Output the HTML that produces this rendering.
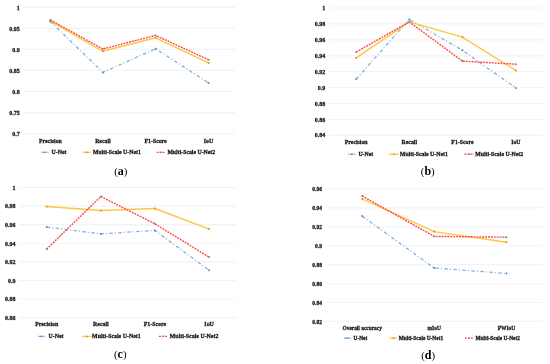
<!DOCTYPE html><html><head><meta charset="utf-8"><style>
html,body{margin:0;padding:0;background:#fff;width:550px;height:364px;overflow:hidden}
svg{display:block;filter:blur(0.45px)}
.t{font-family:"Liberation Serif",serif;font-weight:bold;fill:#1a1a1a;stroke:#1a1a1a;stroke-width:0.28px}
.cap{font-family:"Liberation Serif",serif;font-size:10.8px;fill:#000}
.cap tspan.b{font-weight:bold;font-size:12px}
</style></head><body>
<svg width="550" height="364" viewBox="0 0 550 364">
<line x1="23.5" y1="7.35" x2="235.0" y2="7.35" stroke="#f3f3f3" stroke-width="1.2"/>
<text class="t" x="19.7" y="9.63" font-size="6.0" text-anchor="end">1</text>
<line x1="23.5" y1="28.39" x2="235.0" y2="28.39" stroke="#f3f3f3" stroke-width="1.2"/>
<text class="t" x="19.7" y="30.67" font-size="6.0" text-anchor="end">0.95</text>
<line x1="23.5" y1="49.43" x2="235.0" y2="49.43" stroke="#f3f3f3" stroke-width="1.2"/>
<text class="t" x="19.7" y="51.71" font-size="6.0" text-anchor="end">0.9</text>
<line x1="23.5" y1="70.47" x2="235.0" y2="70.47" stroke="#f3f3f3" stroke-width="1.2"/>
<text class="t" x="19.7" y="72.75" font-size="6.0" text-anchor="end">0.85</text>
<line x1="23.5" y1="91.52" x2="235.0" y2="91.52" stroke="#f3f3f3" stroke-width="1.2"/>
<text class="t" x="19.7" y="93.80" font-size="6.0" text-anchor="end">0.8</text>
<line x1="23.5" y1="112.56" x2="235.0" y2="112.56" stroke="#f3f3f3" stroke-width="1.2"/>
<text class="t" x="19.7" y="114.84" font-size="6.0" text-anchor="end">0.75</text>
<line x1="23.5" y1="133.60" x2="235.0" y2="133.60" stroke="#f3f3f3" stroke-width="1.2"/>
<text class="t" x="19.7" y="135.88" font-size="6.0" text-anchor="end">0.7</text>
<text class="t" x="50.4" y="142.50" font-size="5.8" text-anchor="middle">Precision</text>
<text class="t" x="102.9" y="142.50" font-size="5.8" text-anchor="middle">Recall</text>
<text class="t" x="155.6" y="142.50" font-size="5.8" text-anchor="middle">F1-Score</text>
<text class="t" x="208.5" y="142.50" font-size="5.8" text-anchor="middle">IoU</text>
<polyline points="50.4,21.5 102.9,72.4 155.6,48.8 208.5,82.9" fill="none" stroke="#80B2E2" stroke-width="1.3" stroke-dasharray="3.5 2 1 2.5" stroke-linejoin="round"/>
<polyline points="50.4,21.1 102.9,51.3 155.6,37.8 208.5,62.9" fill="none" stroke="#FFC640" stroke-width="1.4" stroke-linejoin="round"/>
<polyline points="50.4,20.0 102.9,49.0 155.6,35.4 208.5,59.8" fill="none" stroke="#FF4545" stroke-width="1.4" stroke-dasharray="1.9 1.0" stroke-linejoin="round"/>
<circle cx="50.4" cy="21.5" r="1" fill="#4a86c5"/>
<circle cx="102.9" cy="72.4" r="1" fill="#4a86c5"/>
<circle cx="155.6" cy="48.8" r="1" fill="#4a86c5"/>
<circle cx="208.5" cy="82.9" r="1" fill="#4a86c5"/>
<circle cx="50.4" cy="21.1" r="1" fill="#f08a00"/>
<circle cx="102.9" cy="51.3" r="1" fill="#f08a00"/>
<circle cx="155.6" cy="37.8" r="1" fill="#f08a00"/>
<circle cx="208.5" cy="62.9" r="1" fill="#f08a00"/>
<circle cx="50.4" cy="20.0" r="1" fill="#8a8a8a"/>
<circle cx="102.9" cy="49.0" r="1" fill="#8a8a8a"/>
<circle cx="155.6" cy="35.4" r="1" fill="#8a8a8a"/>
<circle cx="208.5" cy="59.8" r="1" fill="#8a8a8a"/>
<line x1="41.0" y1="152.3" x2="48.4" y2="152.3" stroke="#80B2E2" stroke-width="1.1" stroke-dasharray="3.2 1.2"/>
<circle cx="44.7" cy="152.3" r="0.9" fill="#4a86c5"/>
<text class="t" x="51.6" y="154.21" font-size="5.8">U-Net</text>
<line x1="82.4" y1="152.3" x2="91.0" y2="152.3" stroke="#FFC640" stroke-width="1.3"/>
<circle cx="86.7" cy="152.3" r="0.9" fill="#f08a00"/>
<text class="t" x="93.0" y="154.21" font-size="5.8">Multi-Scale U-Net1</text>
<line x1="156.6" y1="152.3" x2="165.6" y2="152.3" stroke="#FF4545" stroke-width="1.2" stroke-dasharray="2 1"/>
<circle cx="161.1" cy="152.3" r="0.9" fill="#8a8a8a"/>
<text class="t" x="167.4" y="154.21" font-size="5.8">Multi-Scale U-Net2</text>
<text class="cap" x="114.2" y="174.9">(<tspan class="b">a</tspan>)</text>
<line x1="329.5" y1="8.00" x2="543.0" y2="8.00" stroke="#f3f3f3" stroke-width="1.2"/>
<text class="t" x="325.3" y="10.08" font-size="6.0" text-anchor="end">1</text>
<line x1="329.5" y1="23.93" x2="543.0" y2="23.93" stroke="#f3f3f3" stroke-width="1.2"/>
<text class="t" x="325.3" y="26.01" font-size="6.0" text-anchor="end">0.98</text>
<line x1="329.5" y1="39.85" x2="543.0" y2="39.85" stroke="#f3f3f3" stroke-width="1.2"/>
<text class="t" x="325.3" y="41.93" font-size="6.0" text-anchor="end">0.96</text>
<line x1="329.5" y1="55.78" x2="543.0" y2="55.78" stroke="#f3f3f3" stroke-width="1.2"/>
<text class="t" x="325.3" y="57.86" font-size="6.0" text-anchor="end">0.94</text>
<line x1="329.5" y1="71.70" x2="543.0" y2="71.70" stroke="#f3f3f3" stroke-width="1.2"/>
<text class="t" x="325.3" y="73.78" font-size="6.0" text-anchor="end">0.92</text>
<line x1="329.5" y1="87.62" x2="543.0" y2="87.62" stroke="#f3f3f3" stroke-width="1.2"/>
<text class="t" x="325.3" y="89.70" font-size="6.0" text-anchor="end">0.9</text>
<line x1="329.5" y1="103.55" x2="543.0" y2="103.55" stroke="#f3f3f3" stroke-width="1.2"/>
<text class="t" x="325.3" y="105.63" font-size="6.0" text-anchor="end">0.88</text>
<line x1="329.5" y1="119.48" x2="543.0" y2="119.48" stroke="#f3f3f3" stroke-width="1.2"/>
<text class="t" x="325.3" y="121.56" font-size="6.0" text-anchor="end">0.86</text>
<line x1="329.5" y1="135.40" x2="543.0" y2="135.40" stroke="#f3f3f3" stroke-width="1.2"/>
<text class="t" x="325.3" y="137.48" font-size="6.0" text-anchor="end">0.84</text>
<text class="t" x="356.2" y="144.30" font-size="5.8" text-anchor="middle">Precision</text>
<text class="t" x="409.3" y="144.30" font-size="5.8" text-anchor="middle">Recall</text>
<text class="t" x="462.4" y="144.30" font-size="5.8" text-anchor="middle">F1-Score</text>
<text class="t" x="515.8" y="144.30" font-size="5.8" text-anchor="middle">IoU</text>
<polyline points="356.2,79.1 409.3,19.4 462.4,50.3 515.8,88.0" fill="none" stroke="#80B2E2" stroke-width="1.3" stroke-dasharray="3.5 2 1 2.5" stroke-linejoin="round"/>
<polyline points="356.2,57.9 409.3,21.9 462.4,37.1 515.8,70.4" fill="none" stroke="#FFC640" stroke-width="1.4" stroke-linejoin="round"/>
<polyline points="356.2,52.0 409.3,21.9 462.4,61.1 515.8,64.2" fill="none" stroke="#FF4545" stroke-width="1.4" stroke-dasharray="1.9 1.0" stroke-linejoin="round"/>
<circle cx="356.2" cy="79.1" r="1" fill="#4a86c5"/>
<circle cx="409.3" cy="19.4" r="1" fill="#4a86c5"/>
<circle cx="462.4" cy="50.3" r="1" fill="#4a86c5"/>
<circle cx="515.8" cy="88.0" r="1" fill="#4a86c5"/>
<circle cx="356.2" cy="57.9" r="1" fill="#f08a00"/>
<circle cx="409.3" cy="21.9" r="1" fill="#f08a00"/>
<circle cx="462.4" cy="37.1" r="1" fill="#f08a00"/>
<circle cx="515.8" cy="70.4" r="1" fill="#f08a00"/>
<circle cx="356.2" cy="52.0" r="1" fill="#8a8a8a"/>
<circle cx="409.3" cy="21.9" r="1" fill="#8a8a8a"/>
<circle cx="462.4" cy="61.1" r="1" fill="#8a8a8a"/>
<circle cx="515.8" cy="64.2" r="1" fill="#8a8a8a"/>
<line x1="348.0" y1="154.2" x2="355.6" y2="154.2" stroke="#80B2E2" stroke-width="1.1" stroke-dasharray="3.2 1.2"/>
<circle cx="351.8" cy="154.2" r="0.9" fill="#4a86c5"/>
<text class="t" x="358.4" y="156.11" font-size="5.8">U-Net</text>
<line x1="389.0" y1="154.2" x2="399.0" y2="154.2" stroke="#FFC640" stroke-width="1.3"/>
<circle cx="394.0" cy="154.2" r="0.9" fill="#f08a00"/>
<text class="t" x="400.0" y="156.11" font-size="5.8">Multi-Scale U-Net1</text>
<line x1="464.4" y1="154.2" x2="473.9" y2="154.2" stroke="#FF4545" stroke-width="1.2" stroke-dasharray="2 1"/>
<circle cx="469.1" cy="154.2" r="0.9" fill="#8a8a8a"/>
<text class="t" x="475.3" y="156.11" font-size="5.8">Multi-Scale U-Net2</text>
<text class="cap" x="420.8" y="174.9">(<tspan class="b">b</tspan>)</text>
<line x1="19.2" y1="187.50" x2="236.0" y2="187.50" stroke="#f3f3f3" stroke-width="1.2"/>
<text class="t" x="15.4" y="189.78" font-size="6.0" text-anchor="end">1</text>
<line x1="19.2" y1="206.09" x2="236.0" y2="206.09" stroke="#f3f3f3" stroke-width="1.2"/>
<text class="t" x="15.4" y="208.37" font-size="6.0" text-anchor="end">0.98</text>
<line x1="19.2" y1="224.67" x2="236.0" y2="224.67" stroke="#f3f3f3" stroke-width="1.2"/>
<text class="t" x="15.4" y="226.95" font-size="6.0" text-anchor="end">0.96</text>
<line x1="19.2" y1="243.26" x2="236.0" y2="243.26" stroke="#f3f3f3" stroke-width="1.2"/>
<text class="t" x="15.4" y="245.54" font-size="6.0" text-anchor="end">0.94</text>
<line x1="19.2" y1="261.84" x2="236.0" y2="261.84" stroke="#f3f3f3" stroke-width="1.2"/>
<text class="t" x="15.4" y="264.12" font-size="6.0" text-anchor="end">0.92</text>
<line x1="19.2" y1="280.43" x2="236.0" y2="280.43" stroke="#f3f3f3" stroke-width="1.2"/>
<text class="t" x="15.4" y="282.71" font-size="6.0" text-anchor="end">0.9</text>
<line x1="19.2" y1="299.01" x2="236.0" y2="299.01" stroke="#f3f3f3" stroke-width="1.2"/>
<text class="t" x="15.4" y="301.29" font-size="6.0" text-anchor="end">0.88</text>
<line x1="19.2" y1="317.60" x2="236.0" y2="317.60" stroke="#f3f3f3" stroke-width="1.2"/>
<text class="t" x="15.4" y="319.88" font-size="6.0" text-anchor="end">0.86</text>
<text class="t" x="46.7" y="326.10" font-size="5.9" text-anchor="middle">Precision</text>
<text class="t" x="100.9" y="326.10" font-size="5.9" text-anchor="middle">Recall</text>
<text class="t" x="154.9" y="326.10" font-size="5.9" text-anchor="middle">F1-Score</text>
<text class="t" x="209.1" y="326.10" font-size="5.9" text-anchor="middle">IoU</text>
<polyline points="46.7,227.1 100.9,233.9 154.9,230.4 209.1,270.2" fill="none" stroke="#80B2E2" stroke-width="1.3" stroke-dasharray="3.5 2 1 2.5" stroke-linejoin="round"/>
<polyline points="46.7,206.5 100.9,210.5 154.9,208.5 209.1,229.1" fill="none" stroke="#FFC640" stroke-width="1.4" stroke-linejoin="round"/>
<polyline points="46.7,249.0 100.9,196.5 154.9,223.8 209.1,257.1" fill="none" stroke="#FF4545" stroke-width="1.4" stroke-dasharray="1.9 1.0" stroke-linejoin="round"/>
<circle cx="46.7" cy="227.1" r="1" fill="#4a86c5"/>
<circle cx="100.9" cy="233.9" r="1" fill="#4a86c5"/>
<circle cx="154.9" cy="230.4" r="1" fill="#4a86c5"/>
<circle cx="209.1" cy="270.2" r="1" fill="#4a86c5"/>
<circle cx="46.7" cy="206.5" r="1" fill="#f08a00"/>
<circle cx="100.9" cy="210.5" r="1" fill="#f08a00"/>
<circle cx="154.9" cy="208.5" r="1" fill="#f08a00"/>
<circle cx="209.1" cy="229.1" r="1" fill="#f08a00"/>
<circle cx="46.7" cy="249.0" r="1" fill="#8a8a8a"/>
<circle cx="100.9" cy="196.5" r="1" fill="#8a8a8a"/>
<circle cx="154.9" cy="223.8" r="1" fill="#8a8a8a"/>
<circle cx="209.1" cy="257.1" r="1" fill="#8a8a8a"/>
<line x1="38.2" y1="336.4" x2="44.8" y2="336.4" stroke="#80B2E2" stroke-width="1.1" stroke-dasharray="3.2 1.2"/>
<circle cx="41.5" cy="336.4" r="0.9" fill="#4a86c5"/>
<text class="t" x="48.5" y="338.35" font-size="5.9">U-Net</text>
<line x1="81.9" y1="336.4" x2="91.7" y2="336.4" stroke="#FFC640" stroke-width="1.3"/>
<circle cx="86.8" cy="336.4" r="0.9" fill="#f08a00"/>
<text class="t" x="92.1" y="338.35" font-size="5.9">Multi-Scale U-Net1</text>
<line x1="158.9" y1="336.4" x2="167.6" y2="336.4" stroke="#FF4545" stroke-width="1.2" stroke-dasharray="2 1"/>
<circle cx="163.2" cy="336.4" r="0.9" fill="#8a8a8a"/>
<text class="t" x="169.8" y="338.35" font-size="5.9">Multi-Scale U-Net2</text>
<text class="cap" x="114.0" y="358.4">(<tspan class="b">c</tspan>)</text>
<line x1="326.3" y1="189.00" x2="542.3" y2="189.00" stroke="#f3f3f3" stroke-width="1.2"/>
<text class="t" x="321.9" y="191.12" font-size="5.5" text-anchor="end">0.96</text>
<line x1="326.3" y1="207.91" x2="542.3" y2="207.91" stroke="#f3f3f3" stroke-width="1.2"/>
<text class="t" x="321.9" y="210.03" font-size="5.5" text-anchor="end">0.94</text>
<line x1="326.3" y1="226.83" x2="542.3" y2="226.83" stroke="#f3f3f3" stroke-width="1.2"/>
<text class="t" x="321.9" y="228.94" font-size="5.5" text-anchor="end">0.92</text>
<line x1="326.3" y1="245.74" x2="542.3" y2="245.74" stroke="#f3f3f3" stroke-width="1.2"/>
<text class="t" x="321.9" y="247.86" font-size="5.5" text-anchor="end">0.9</text>
<line x1="326.3" y1="264.66" x2="542.3" y2="264.66" stroke="#f3f3f3" stroke-width="1.2"/>
<text class="t" x="321.9" y="266.77" font-size="5.5" text-anchor="end">0.88</text>
<line x1="326.3" y1="283.57" x2="542.3" y2="283.57" stroke="#f3f3f3" stroke-width="1.2"/>
<text class="t" x="321.9" y="285.69" font-size="5.5" text-anchor="end">0.86</text>
<line x1="326.3" y1="302.49" x2="542.3" y2="302.49" stroke="#f3f3f3" stroke-width="1.2"/>
<text class="t" x="321.9" y="304.60" font-size="5.5" text-anchor="end">0.84</text>
<line x1="326.3" y1="321.40" x2="542.3" y2="321.40" stroke="#f3f3f3" stroke-width="1.2"/>
<text class="t" x="321.9" y="323.51" font-size="5.5" text-anchor="end">0.82</text>
<text class="t" x="362.2" y="329.60" font-size="5.4" text-anchor="middle">Overall accuracy</text>
<text class="t" x="434.2" y="329.60" font-size="5.4" text-anchor="middle">mIoU</text>
<text class="t" x="506.5" y="329.60" font-size="5.4" text-anchor="middle">FWIoU</text>
<polyline points="362.2,216.1 434.2,268.0 506.5,273.4" fill="none" stroke="#80B2E2" stroke-width="1.3" stroke-dasharray="3.5 2 1 2.5" stroke-linejoin="round"/>
<polyline points="362.2,198.9 434.2,231.6 506.5,242.2" fill="none" stroke="#FFC640" stroke-width="1.4" stroke-linejoin="round"/>
<polyline points="362.2,196.0 434.2,236.4 506.5,237.2" fill="none" stroke="#FF4545" stroke-width="1.4" stroke-dasharray="1.9 1.0" stroke-linejoin="round"/>
<circle cx="362.2" cy="216.1" r="1" fill="#4a86c5"/>
<circle cx="434.2" cy="268.0" r="1" fill="#4a86c5"/>
<circle cx="506.5" cy="273.4" r="1" fill="#4a86c5"/>
<circle cx="362.2" cy="198.9" r="1" fill="#f08a00"/>
<circle cx="434.2" cy="231.6" r="1" fill="#f08a00"/>
<circle cx="506.5" cy="242.2" r="1" fill="#f08a00"/>
<circle cx="362.2" cy="196.0" r="1" fill="#8a8a8a"/>
<circle cx="434.2" cy="236.4" r="1" fill="#8a8a8a"/>
<circle cx="506.5" cy="237.2" r="1" fill="#8a8a8a"/>
<line x1="343.7" y1="338.1" x2="350.7" y2="338.1" stroke="#80B2E2" stroke-width="1.1" stroke-dasharray="3.2 1.2"/>
<circle cx="347.2" cy="338.1" r="0.9" fill="#4a86c5"/>
<text class="t" x="353.5" y="339.88" font-size="5.4">U-Net</text>
<line x1="389.5" y1="338.1" x2="397.2" y2="338.1" stroke="#FFC640" stroke-width="1.3"/>
<circle cx="393.4" cy="338.1" r="0.9" fill="#f08a00"/>
<text class="t" x="398.7" y="339.88" font-size="5.4">Multi-Scale U-Net1</text>
<line x1="464.9" y1="338.1" x2="473.6" y2="338.1" stroke="#FF4545" stroke-width="1.2" stroke-dasharray="2 1"/>
<circle cx="469.2" cy="338.1" r="0.9" fill="#8a8a8a"/>
<text class="t" x="475.5" y="339.88" font-size="5.4">Multi-Scale U-Net2</text>
<text class="cap" x="421.2" y="358.8">(<tspan class="b">d</tspan>)</text>
</svg></body></html>
